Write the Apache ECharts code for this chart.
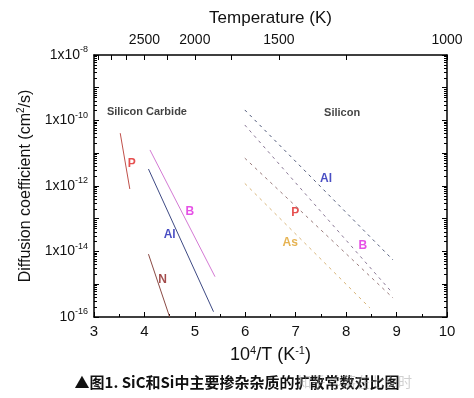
<!DOCTYPE html>
<html>
<head>
<meta charset="utf-8">
<script src="https://cdn.jsdelivr.net/npm/echarts@6/dist/echarts.min.js"></script>
<style>
  html, body { margin: 0; padding: 0; background: #fff; }
  #chart { width: 474px; height: 398px; }
</style>
</head>
<body>
<div id="chart"></div>
<script>
// 数据：x = 10^4/T，y = 扩散系数 (cm^2/s)
const sicP  = [[3.52, 4.1e-11], [3.71, 8.1e-13]];
const sicB  = [[4.11, 1.26e-11], [5.40, 1.7e-15]];
const sicAl = [[4.08, 3.3e-12], [5.37, 1.45e-16]];
const sicN  = [[4.08, 8.3e-15], [4.50, 1.0e-16]];

const siAl = [[5.99, 2.1e-10], [8.93, 5.5e-15]];
const siB  = [[5.99, 7.3e-11], [8.87, 6.6e-16]];
const siP  = [[5.99, 7.1e-12], [8.93, 3.8e-16]];
const siAs = [[5.99, 1.2e-12], [8.47, 1.9e-16]];

// 上方温度轴
const tempTicks = [3250, 3000, 2750, 2500, 2250, 2000, 1750, 1500, 1250, 1000];
const tempLabels = [2500, 2000, 1500, 1000];

// 图中的文字标注
const noteNames = ['P', 'B', 'Al', 'N', 'Al', 'P', 'As', 'B'];
const noteX = [3.75, 4.90, 4.50, 4.36, 7.60, 6.99, 6.89, 8.33];
const noteY = [4.9e-12, 1.66e-13, 3.2e-14, 1.4e-15, 1.7e-12, 1.5e-13, 1.8e-14, 1.5e-14];
const groupNames = ['Silicon Carbide', 'Silicon'];
const groupX = [4.05, 7.92];
const groupY = [1.8e-10, 1.7e-10];

const noteColors = { P: '#e02424', B: '#e026e0', Al: '#1c22b4', N: '#8b1e1e', As: '#e0a028' };

// 对数轴的小刻度 (指数空间)
const minorY = [];
for (let e = -16; e < -8; e++) {
  for (let k = 2; k <= 9; k++) minorY.push(e + Math.log10(k));
}

const font = 'Arial, "Liberation Sans", sans-serif';
const chart = echarts.init(document.getElementById('chart'), null, { renderer: 'canvas' });

function solid(data, color) {
  return { type: 'line', data, symbol: 'none', silent: true, xAxisIndex: 0, yAxisIndex: 0,
    lineStyle: { color, width: 1 } };
}
function dashed(data, color) {
  return { type: 'line', data, symbol: 'none', silent: true, xAxisIndex: 0, yAxisIndex: 0,
    lineStyle: { color, width: 1, type: [3, 4] } };
}

const noteData = noteNames.map((n, i) => ({
  value: [noteX[i], noteY[i]],
  name: n,
  label: { color: noteColors[n] }
}));
const groupData = groupNames.map((n, i) => ({ value: [groupX[i], groupY[i]], name: n }));

const yLab = {
  b: { fontSize: 14, fontFamily: font, color: '#111' },
  s: { fontSize: 9, fontFamily: font, color: '#111', padding: [0, 0, 10, 0] }
};

chart.setOption({
  animation: false,
  backgroundColor: '#fff',
  grid: { left: 94, right: 27, top: 55, bottom: 81 },
  xAxis: [
    {
      type: 'value', position: 'bottom', min: 3, max: 10, interval: 1,
      axisLine: { lineStyle: { color: '#000', width: 1.5 } },
      axisTick: { inside: true, length: 5, lineStyle: { color: '#000', width: 1 } },
      minorTick: { show: true, splitNumber: 2, length: 3, lineStyle: { color: '#000' } },
      splitLine: { show: false },
      axisLabel: { fontSize: 15, fontFamily: font, color: '#111', margin: 7 },
      name: '{b|10}{s|4}{b|/T (K}{s|-1}{b|)}',
      nameLocation: 'middle', nameGap: 28,
      nameTextStyle: {
        rich: {
          b: { fontSize: 18, fontFamily: font, color: '#111' },
          s: { fontSize: 11, fontFamily: font, color: '#111', padding: [0, 0, 10, 0] }
        }
      }
    },
    {
      type: 'value', position: 'top', min: 3, max: 10,
      axisLine: { lineStyle: { color: '#000', width: 1.5 } },
      axisTick: { inside: true, length: 5, customValues: tempTicks.map(t => 1e4 / t),
        lineStyle: { color: '#000', width: 1 } },
      splitLine: { show: false },
      axisLabel: { fontSize: 14, fontFamily: font, color: '#111', margin: 8,
        customValues: tempLabels.map(t => 1e4 / t),
        formatter: v => String(Math.round(1e4 / v / 10) * 10) },
      name: 'Temperature (K)', nameLocation: 'middle', nameGap: 28,
      nameTextStyle: { fontSize: 17, fontFamily: font, color: '#111' }
    }
  ],
  yAxis: [
    {
      type: 'log', logBase: 10, min: 1e-16, max: 1e-8, splitNumber: 8, position: 'left',
      axisLine: { show: true, lineStyle: { color: '#000', width: 1.5 } },
      axisTick: { show: true, inside: true, length: 5, lineStyle: { color: '#000', width: 1 } },
      splitLine: { show: false },
      axisLabel: {
        margin: 6,
        formatter: v => {
          const e = Math.round(Math.log10(v));
          if (e % 2 !== 0) return '';
          if (e === -16) return '{b|10}{s|' + e + '}';
          return '{b|1x10}{s|' + e + '}';
        },
        rich: yLab
      },
      name: '{b|Diffusion coefficient (cm}{s|2}{b|/s)}',
      nameLocation: 'middle', nameGap: 58, nameRotate: 90,
      nameTextStyle: {
        rich: {
          b: { fontSize: 16, fontFamily: font, color: '#111' },
          s: { fontSize: 10, fontFamily: font, color: '#111', padding: [0, 0, 9, 0] }
        }
      }
    },
    {
      type: 'log', logBase: 10, min: 1e-16, max: 1e-8, splitNumber: 8, position: 'right',
      axisLine: { show: true, lineStyle: { color: '#000', width: 1.5 } },
      axisTick: { show: true, inside: true, length: 5, lineStyle: { color: '#000', width: 1 } },
      splitLine: { show: false },
      axisLabel: { show: false }
    },
    {
      type: 'value', min: -16, max: -8, position: 'left',
      axisLine: { show: false }, splitLine: { show: false }, axisLabel: { show: false },
      axisTick: { show: true, inside: true, length: 3, customValues: minorY,
        lineStyle: { color: '#000', width: 1 } }
    },
    {
      type: 'value', min: -16, max: -8, position: 'right',
      axisLine: { show: false }, splitLine: { show: false }, axisLabel: { show: false },
      axisTick: { show: true, inside: true, length: 3, customValues: minorY,
        lineStyle: { color: '#000', width: 1 } }
    }
  ],
  series: [
    solid(sicP, '#c0504a'),
    solid(sicB, '#d47ad4'),
    solid(sicAl, '#3e4a84'),
    solid(sicN, '#8a4a44'),
    dashed(siAl, '#505a7a'),
    dashed(siB, '#8a7896'),
    dashed(siP, '#9a7c7c'),
    dashed(siAs, '#d8b478'),
    {
      type: 'scatter', data: noteData, symbolSize: 1, itemStyle: { color: 'rgba(0,0,0,0)' }, silent: true,
      label: { show: true, position: 'inside', formatter: p => p.name,
        fontSize: 12, fontWeight: 'bold', fontFamily: font }
    },
    {
      type: 'scatter', data: groupData, symbolSize: 1, itemStyle: { color: 'rgba(0,0,0,0)' }, silent: true,
      label: { show: true, position: 'inside', formatter: p => p.name, color: '#111',
        fontSize: 11, fontWeight: 'bold', fontFamily: font }
    }
  ],
  graphic: [
    {
      type: 'text', left: 'center', top: 375,
      style: { text: '▲图1. SiC和Si中主要掺杂杂质的扩散常数对比图', fill: '#111',
        font: 'bold 15px "Noto Sans CJK SC", sans-serif' }
    },
    {
      type: 'text', right: 62, top: 375,
      style: { text: '知乎 @落在七夕时', fill: 'rgba(150,150,150,0.45)',
        font: '14px "Noto Sans CJK SC", sans-serif' }
    }
  ]
});
</script>
</body>
</html>
